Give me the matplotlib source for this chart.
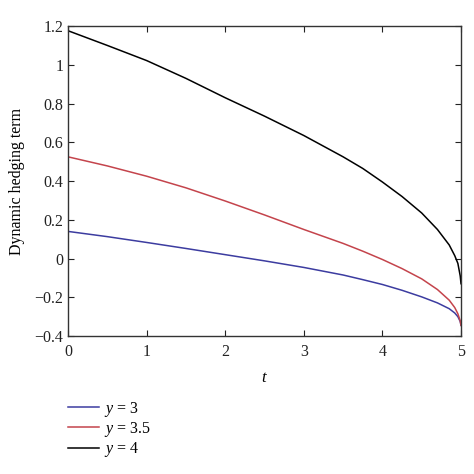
import matplotlib
matplotlib.use("Agg")
import matplotlib.pyplot as plt

plt.rcParams['font.family'] = ['Liberation Serif', 'DejaVu Serif']
plt.rcParams['mathtext.fontset'] = 'custom'
plt.rcParams['mathtext.it'] = 'Liberation Serif:italic'
plt.rcParams['mathtext.rm'] = 'Liberation Serif'

# values
t = [0, 0.5, 1, 1.5, 2, 2.5, 3, 3.5, 3.75, 4, 4.25, 4.5, 4.7, 4.85, 4.92, 4.96, 4.99, 5]
y3 = [0.14, 0.113, 0.083, 0.052, 0.02, -0.012, -0.046, -0.085, -0.109, -0.134,
      -0.164, -0.198, -0.229, -0.259, -0.281, -0.30, -0.325, -0.345]
y35 = [0.525, 0.478, 0.425, 0.365, 0.297, 0.225, 0.15, 0.078, 0.038, -0.005,
       -0.052, -0.105, -0.16, -0.215, -0.253, -0.285, -0.322, -0.345]
y4 = [1.176, 1.10, 1.022, 0.93, 0.83, 0.735, 0.635, 0.525, 0.465, 0.395,
      0.32, 0.235, 0.15, 0.07, 0.015, -0.025, -0.09, -0.13]

xticks = [0, 1, 2, 3, 4, 5]
yticks = [-0.4, -0.2, 0, 0.2, 0.4, 0.6, 0.8, 1, 1.2]
ytick_labels = ['\u22120.4', '\u22120.2', '0', '0.2', '0.4', '0.6', '0.8', '1', '1.2']

fig = plt.figure(figsize=(4.74, 4.74), dpi=100)
ax = fig.add_axes([0.1435, 0.2911, 0.8291, 0.6539])

ax.plot(t, y3, color='#3c3ca0', lw=1.1, label='$y$ = 3')
ax.plot(t, y35, color='#c4444c', lw=1.1, label='$y$ = 3.5')
ax.plot(t, y4, color='black', lw=1.1, label='$y$ = 4')

ax.set_xlim(0, 5)
ax.set_ylim(-0.4, 1.2)
ax.set_xticks(xticks)
ax.set_yticks(yticks)
ax.set_yticklabels(ytick_labels)
ax.tick_params(direction='in', top=True, right=True, length=4, labelsize=11.5, colors='#222222')
ax.tick_params(axis='x', pad=6)
for s in ax.spines.values():
    s.set_linewidth(1.0)
    s.set_color('#333333')

ax.set_xlabel('$t$', fontsize=12, labelpad=7)
ax.set_ylabel('Dynamic hedging term', fontsize=11.5, labelpad=7)

fig.legend(loc='upper left', bbox_to_anchor=(0.131, 0.17), frameon=False,
           fontsize=11.5, handlelength=1.9, handletextpad=0.3, labelspacing=0.08,
           borderaxespad=0)

fig.savefig('out.png', dpi=100)
